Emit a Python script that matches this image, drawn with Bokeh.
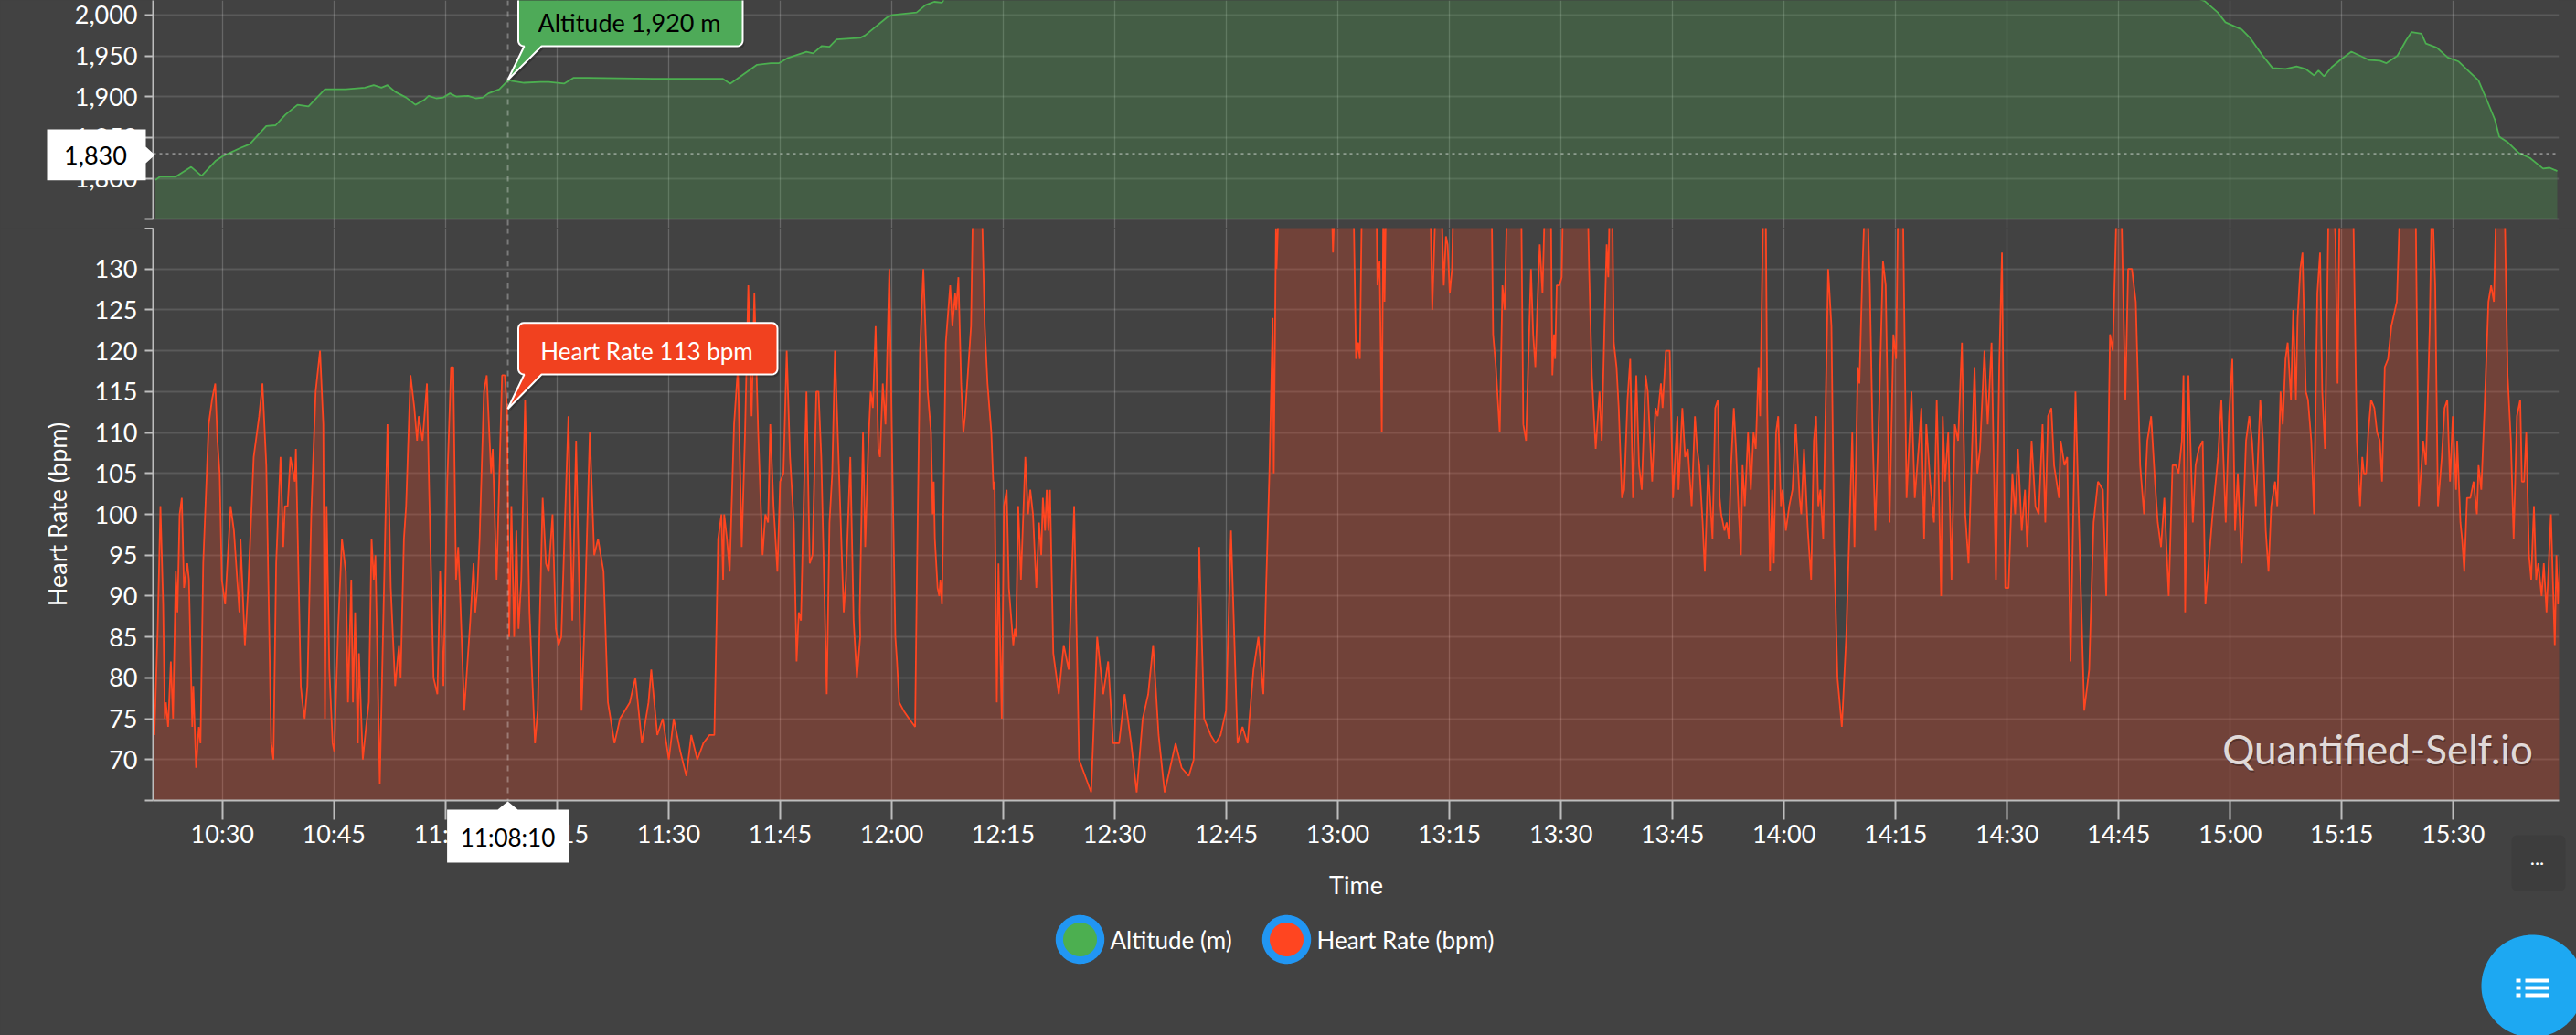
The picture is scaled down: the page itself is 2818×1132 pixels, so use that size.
import numpy as np
from bokeh.core.properties import value
from bokeh.embed import file_html
from bokeh.resources import INLINE
from bokeh.layouts import column
from bokeh.plotting import figure
from bokeh.models import (Range1d, LinearAxis, Grid, FixedTicker, NumeralTickFormatter,
                          Span, ColumnDataSource)

# ---- data: (time reading, value). Time readings are in 1/13.56 minute steps from each base time;
# the last altitude part is in 1/6.79 minute steps.
tick_labels = ["10:30","10:45","11:00","11:15","11:30","11:45","12:00","12:15","12:30","12:45","13:00",
               "13:15","13:30","13:45","14:00","14:15","14:30","14:45","15:00","15:15","15:30"]
alt_ticks = [1750,1800,1850,1900,1950,2000]
hr_ticks = [65,70,75,80,85,90,95,100,105,110,115,120,125,130,135]
cursor_minute = 668.38

alt_a = [(283,1798),(291,1802),(320,1802),(348,1814),(367,1803),(392,1821),(405,1827),(437,1837),(455,1842),
 (485,1864),(502,1865),(520,1878),(542,1890),(562,1888),(592,1909),(630,1909),(665,1911),(681,1914),(695,1911),
 (706,1914),(720,1906),(740,1899),(757,1890),(773,1896),(781,1901),(795,1898),(808,1899),(820,1904),(832,1900),
 (853,1901),(867,1898),(880,1899),(890,1904),(910,1909),(926,1920),(955,1917),(985,1918),(1000,1918),(1028,1916),
 (1045,1923),(1070,1923),(1190,1922),(1317,1922),(1331,1916),(1340,1920),(1380,1939),(1405,1941),(1420,1941),
 (1435,1947),(1470,1955),(1482,1953),(1498,1962),(1512,1961),(1525,1970),(1568,1972)]
alt_b = [(5,1975),(25,1997),(30,2000),(52,2003),(60,2012),(68,2016),(75,2015),(78,2021),(100,2050),(300,2150),
 (600,2230),(900,2180),(1100,2080),(1228,2017),(1240,2003),(1247,1991),(1262,1982),(1270,1971),(1280,1952),(1290,1935),
 (1302,1934),(1312,1937),(1320,1934),(1328,1926),(1332,1932),(1337,1925),(1344,1936),(1352,1945),(1362,1955),
 (1378,1945),(1388,1944),(1394,1941),(1404,1950),(1412,1969),(1417,1979),(1426,1977),(1430,1965),(1440,1960),
 (1450,1948),(1460,1943),(1470,1930),(1478,1920),(1485,1898),(1493,1872),(1497,1851),(1505,1844),(1515,1831),
 (1525,1825),(1537,1812),(1543,1813),(1550,1809)]

hr_a = [(281,73),(287,86),(292,101),(297,89),(300,75),(302,77),(306,74),(311,82),(315,75),(320,93),(323,88),(327,100),
 (331,102),(335,91),(341,94),(344,92),(350,74),(352,79),(357,69),(362,74),(365,72),(370,94),(380,111),(386,114),
 (392,116),(396,109),(400,105),(404,92),(410,89),(420,101),(426,98),(433,91),(436,88),(438,97),(446,84),(452,91),
 (462,107),(472,112),(478,116),(485,106),(494,72),(498,70),(503,94),(511,107),(516,96),(519,101),(524,101),(529,107),
 (537,104),(539,108),(548,79),(551,77),(555,75),(560,79),(567,100),(575,115),(583,120),(589,111),(592,75),(595,101),
 (600,81),(606,72),(609,71),(616,86),(623,97),(630,93),(634,77),(640,92),(643,77),(647,88),(652,72),(654,83),(661,70),
 (667,74),(672,77),(677,97),(681,92),(684,95),(692,67),(700,92),(706,111),(712,91),(720,79),(727,84),(730,80),(736,97),
 (740,101),(748,117),(755,113),(760,109),(763,112),(770,109),(778,116),(782,103),(790,80),(797,78),(802,93),(808,79),
 (815,104),(822,118),(826,118),(831,92),(835,96),(838,91),(846,76),(857,87),(863,94),(866,88),(870,91),(874,97),
 (882,115),(887,117),(895,105),(898,108),(905,92),(915,117),(920,117),(924,113),(928,85),(932,101),(937,85),(941,98),
 (945,86),(950,92),(957,114),(965,88),(975,72),(980,76),(984,88),(989,102),(995,94),(1000,93),(1007,100),(1013,86),
 (1018,84),(1023,85),(1030,100),(1036,112),(1043,87),(1050,109),(1056,90),(1060,76),(1065,86),(1075,110),(1083,95),
 (1090,97),(1100,93),(1108,77),(1120,72),(1130,75),(1148,77),(1158,80),(1170,72),(1182,77),(1187,81),(1198,73),
 (1208,75),(1219,70),(1228,75),(1240,71),(1251,68),(1260,73),(1271,70),(1282,72),(1293,73),(1302,73),(1309,97),
 (1315,100),(1318,92),(1320,100),(1325,97),(1330,93),(1338,111),(1345,118),(1352,96),(1358,110),(1364,128),(1370,112),
 (1375,127),(1382,110),(1390,95),(1395,100),(1400,99),(1404,111),(1410,101),(1417,93),(1422,104),(1428,105),(1434,120),
 (1440,107),(1447,99),(1452,82),(1456,88),(1460,87),(1463,96),(1470,115),(1476,94),(1481,95),(1488,115),(1492,115),
 (1497,107),(1507,78),(1512,99),(1517,105),(1522,120),(1530,104),(1538,88),(1542,92),(1550,107),(1556,87),(1562,80),(1568,85)]
hr_b = [(0,88),(6,110),(10,96),(16,109),(20,115),(24,113),(29,123),(34,108),(37,107),(42,116),(47,111),(54,130),(60,104),
 (65,85),(68,82),(72,77),(80,76),(90,75),(101,74),(104,91),(110,120),(116,130),(124,115),(130,110),(133,100),(135,104),
 (137,97),(142,91),(145,90),(147,92),(150,89),(157,121),(165,128),(169,123),(174,127),(176,125),(180,129),(185,116),
 (189,110),(192,112),(198,118),(203,123),(207,140),(222,140),(228,123),(233,116),(240,110),(244,103),(246,104),(250,77),
 (253,94),(259,75),(263,101),(268,103),(272,91),(280,84),(283,86),(285,85),(289,101),(294,92),(302,107),(307,100),
 (311,103),(316,100),(322,91),(327,99),(331,95),(334,102),(338,98),(341,103),(344,98),(347,103),(353,83),(363,78),
 (372,84),(381,81),(391,101),(400,70),(422,66),(433,85),(444,78),(453,82),(462,72),(473,72),(483,78),(495,72),(505,66),
 (516,75),(526,78),(535,84),(545,73),(556,66),(566,69),(576,72),(587,69),(600,68),(609,70),(619,96),(628,75),(640,73),
 (649,72),(658,73),(668,76),(677,98),(689,72),(698,74),(707,72),(718,81),(727,85),(736,78),(741,91),(747,105),(753,124),
 (755,105),(759,135),(760,130),(765,140),(860,140),(863,132),(867,140),(900,140),(905,119),(909,121),(912,119),(916,140),
 (942,140),(944,128),(948,131),(952,110),(955,140),(957,126),(960,140),(1040,140),(1044,125),(1051,140),(1060,140),
 (1065,128),(1069,134),(1072,133),(1076,127),(1080,130),(1083,140),(1152,140),(1155,122),(1160,118),(1167,110),(1172,128),
 (1176,125),(1181,140),(1206,140),(1210,111),(1215,109),(1224,130),(1228,122),(1232,118),(1236,126),(1240,133),(1245,127),
 (1250,140),(1260,140),(1263,117),(1266,122),(1268,119),(1271,128),(1276,128),(1280,129),(1283,140),(1327,140),(1330,130),
 (1335,117),(1342,108),(1349,115),(1353,109),(1358,123),(1362,133),(1365,129),(1368,140),(1372,140),(1375,121),(1380,118),
 (1384,113),(1390,102),(1394,103),(1400,114),(1405,119),(1410,102),(1416,117),(1421,106),(1426,103),(1433,117),(1437,115),
 (1445,104),(1451,113),(1455,112),(1461,116),(1464,113),(1470,120),(1477,120),(1483,102),(1491,112),(1493,103),(1500,113),
 (1505,107),(1510,108),(1517,101),(1523,112),(1527,108),(1531,106),(1537,99),(1541,93),(1547,106),(1555,97),(1560,113),(1565,114),(1568,102)]
hr_c = [(4,100),(10,98),(14,99),(18,97),(22,106),(27,113),(31,108),(36,100),(40,95),(43,106),(47,101),(53,110),(58,103),
 (63,110),(67,108),(72,118),(75,112),(81,140),(85,140),(88,113),(93,93),(97,103),(100,94),(104,110),(108,112),(113,101),
 (116,103),(122,98),(128,101),(134,103),(140,111),(147,102),(150,100),(155,108),(162,98),(168,92),(173,109),(177,112),
 (181,101),(185,103),(190,97),(199,130),(205,123),(210,96),(216,80),(224,74),(232,85),(243,110),(247,96),(253,118),(256,116),
 (262,131),(267,140),(270,140),(275,128),(280,110),(285,98),(292,113),(299,131),(304,128),(311,99),(318,122),(323,119),
 (327,140),(335,140),(342,102),(347,109),(351,115),(357,102),(365,109),(369,113),(374,97),(378,111),(385,104),(392,99),
 (397,114),(400,106),(405,90),(408,112),(412,104),(418,110),(424,92),(430,111),(436,109),(443,121),(449,100),(455,94),
 (460,105),(466,118),(471,105),(476,108),(484,120),(490,111),(497,121),(505,92),(511,118),(516,132),(522,91),(528,91),
 (535,105),(540,100),(545,108),(552,98),(558,103),(562,96),(570,109),(577,101),(583,100),(590,111),(595,99),(600,112),
 (606,113),(611,106),(620,102),(623,109),(630,106),(635,107),(641,82),(650,115),(658,95),(666,76),(675,81),(683,99),
 (691,104),(700,103),(706,90),(713,122),(718,120),(722,130),(726,140),(733,140),(741,114),(746,130),(753,130),(760,126),
 (768,106),(775,100),(781,109),(788,112),(795,104),(800,99),(806,96),(812,102),(820,90),(827,106),(833,106),(838,105),
 (844,109),(847,117),(850,88),(856,117),(864,99),(869,106),(875,108),(882,109),(887,89),(894,95),(900,100),(910,107),
 (916,114),(924,99),(930,112),(936,119),(941,98),(946,105),(953,94),(961,109),(967,112),(972,109),(979,101),(987,114),
 (992,109),(997,98),(1002,93),(1007,101),(1014,104),(1018,101),(1024,115),(1028,111),(1033,119),(1037,121),(1043,114),
 (1047,125),(1052,114),(1055,124),(1060,130),(1064,132),(1070,115),(1074,114),(1080,109),(1085,100),(1091,127),(1096,132),
 (1100,115),(1105,108),(1112,140),(1120,140),(1124,134),(1128,116),(1132,140),(1156,140),(1163,109),(1169,101),(1173,107),
 (1176,105),(1180,105),(1184,110),(1189,114),(1195,113),(1200,110),(1205,109),(1209,104),(1214,118),(1220,119),(1226,123),
 (1236,126),(1243,140),(1270,140),(1276,101),(1284,109),(1289,106),(1296,123),(1300,140),(1306,128),(1311,101),(1318,107),
 (1323,113),(1328,114),(1333,104),(1338,112),(1344,103),(1346,109),(1352,99),(1355,97),(1359,93),(1364,102),(1370,102),
 (1376,104),(1382,100),(1385,106),(1390,103),(1396,113),(1403,126),(1408,128),(1413,126),(1418,140),(1432,140),(1438,117),
 (1444,109),(1449,97),(1455,112),(1461,114),(1464,104),(1468,104),(1472,110),(1477,95),(1481,92),(1486,101),(1490,92),
 (1494,94),(1500,90),(1504,94),(1509,88),(1517,100),(1524,84),(1527,95),(1530,89),(1534,95)]

BASE_A, BASE_B, BASE_C = 600.13, 715.7, 831.25

def minutes(pairs, base, rate):
    return [base + t / rate for t, _ in pairs]

alt_t = minutes(alt_a, BASE_A, 13.56) + minutes(alt_b, BASE_B, 6.79)
alt_v = [v for _, v in alt_a] + [v for _, v in alt_b]
hr_t = minutes(hr_a, BASE_A, 13.56) + minutes(hr_b, BASE_B, 13.56) + minutes(hr_c, BASE_C, 13.56)
hr_v = [v for _, v in hr_a] + [v for _, v in hr_b] + [v for _, v in hr_c]

tick_minutes = [int(s[:2]) * 60 + int(s[3:]) for s in tick_labels]

# ---- styling
BG = "#424242"
FONT = "Lato"
GREEN = "#4caf50"
RED = "#ff4520"
AX = "#bdbdbd"
X_RANGE = (620.68, 944.22)
L, R = 167, 19
P2_TOP = 249

def base_fig(height, y_range, bottom):
    p = figure(width=2818, height=height, x_range=Range1d(*X_RANGE), y_range=y_range, x_axis_type=None, y_axis_type=None,
               output_backend="svg", toolbar_location=None, min_border_left=L, min_border_right=R,
               min_border_top=0, min_border_bottom=bottom, background_fill_color=BG, border_fill_color=BG,
               outline_line_color=None)
    p.add_layout(Grid(dimension=0, ticker=FixedTicker(ticks=tick_minutes), grid_line_color="#ffffff",
                      grid_line_alpha=0.2, grid_line_width=1.3))
    return p

def style_y(ax):
    ax.axis_line_color = AX
    ax.axis_line_width = 2
    ax.major_tick_line_color = AX
    ax.major_tick_line_width = 2
    ax.major_tick_in = 0
    ax.major_tick_out = 9
    ax.minor_tick_line_color = None
    ax.major_label_text_color = "white"
    ax.major_label_text_font = FONT
    ax.major_label_text_font_size = "27px"
    ax.major_label_standoff = 8

# ---- altitude panel
p1 = base_fig(P2_TOP, Range1d(1739.15, 2017.7), 0)
a_ticker = FixedTicker(ticks=alt_ticks)
a_axis = LinearAxis(ticker=a_ticker, formatter=NumeralTickFormatter(format="0,0"), bounds=(1750, 2017.7),
                    major_label_overrides={1750: ""})
style_y(a_axis)
p1.add_layout(a_axis, "left")
p1.add_layout(Grid(dimension=1, ticker=a_ticker, grid_line_color="#ffffff", grid_line_alpha=0.13, grid_line_width=2.2))
a_src = ColumnDataSource(dict(t=alt_t, v=alt_v, b=[1750] * len(alt_v)))
p1.varea(x="t", y1="b", y2="v", source=a_src, fill_color=GREEN, fill_alpha=0.25)
p1.line(x="t", y="v", source=a_src, line_color=GREEN, line_width=1.8)
p1.add_layout(Span(location=1830, dimension="width", line_color="#ffffff", line_alpha=0.4, line_width=2, line_dash="3 4"))
p1.add_layout(Span(location=cursor_minute, dimension="height", line_color="#ffffff", line_alpha=0.3, line_width=2, line_dash="6 6"))

# ---- heart-rate panel
p2 = base_fig(1132 - P2_TOP, Range1d(65, 135), 257)
h_ticker = FixedTicker(ticks=hr_ticks)
h_axis = LinearAxis(ticker=h_ticker, bounds=(65, 135), major_label_overrides={65: "", 135: ""},
                    axis_label="Heart Rate (bpm)", axis_label_text_color="white", axis_label_text_font=FONT,
                    axis_label_text_font_size="27px", axis_label_text_font_style="normal", axis_label_standoff=22)
style_y(h_axis)
p2.add_layout(h_axis, "left")
p2.add_layout(Grid(dimension=1, ticker=h_ticker, grid_line_color="#ffffff", grid_line_alpha=0.13, grid_line_width=2.2))
h_src = ColumnDataSource(dict(t=hr_t, v=hr_v, b=[65] * len(hr_v)))
p2.varea(x="t", y1="b", y2="v", source=h_src, fill_color=RED, fill_alpha=0.25)
p2.line(x="t", y="v", source=h_src, line_color=RED, line_width=1.8)

x_axis = LinearAxis(ticker=FixedTicker(ticks=tick_minutes), major_label_overrides=dict(zip(tick_minutes, tick_labels)),
                    axis_label="Time", axis_label_text_color="white", axis_label_text_font=FONT,
                    axis_label_text_font_size="27px", axis_label_text_font_style="normal", axis_label_standoff=20)
x_axis.axis_line_color = AX
x_axis.axis_line_width = 2
x_axis.major_tick_line_color = AX
x_axis.major_tick_line_width = 2
x_axis.major_tick_in = 0
x_axis.major_tick_out = 21
x_axis.minor_tick_line_color = None
x_axis.major_label_text_color = "white"
x_axis.major_label_text_font = FONT
x_axis.major_label_text_font_size = "27px"
x_axis.major_label_standoff = -2
p2.add_layout(x_axis, "below")
p2.add_layout(Span(location=cursor_minute, dimension="height", line_color="#ffffff", line_alpha=0.3, line_width=2, line_dash="6 6"))

# ---- transparent overlay over the whole page: tooltips, watermark, legend, page widgets
ov = figure(width=2818, height=1132, x_range=Range1d(0, 2818), y_range=Range1d(1132, 0), x_axis_type=None, y_axis_type=None,
            output_backend="svg", toolbar_location=None, min_border=0, background_fill_alpha=0, border_fill_alpha=0,
            outline_line_color=None, styles={"position": "absolute", "left": "0", "top": "0"})

def rr(x0, y0, x1, y1, r=6):
    pts = []
    for cx, cy, a0 in [(x1 - r, y0 + r, -90), (x1 - r, y1 - r, 0), (x0 + r, y1 - r, 90), (x0 + r, y0 + r, 180)]:
        for a in np.radians(np.linspace(a0, a0 + 90, 6)):
            pts.append((cx + r * np.cos(a), cy + r * np.sin(a)))
    return pts

def callout(x0, y0, x1, y1, tip, base0, base1):
    pts = rr(x0, y0, x1, y1)
    return pts[:12] + [(base1, y1), tip, (base0, y1)] + pts[12:]

def shape(pts, color, alpha=1.0, line=None, width=0):
    ov.patch([float(p[0]) for p in pts], [float(p[1]) for p in pts], fill_color=color, fill_alpha=alpha,
             line_color=line, line_width=width)

def disc(cx, cy, r, color):
    a = np.linspace(0, 2 * np.pi, 120)[:-1]
    shape(list(zip(cx + r * np.cos(a), cy + r * np.sin(a))), color)

def label(x, y, text, color="white", size=25, align="center", alpha=1.0):
    ov.text([x], [y], text=[text], text_color=color, text_font=value(FONT), text_font_size=f"{size}px",
            text_align=align, text_baseline="middle", text_alpha=alpha)

alt_box = callout(566.5, -20, 812, 50, (555, 87), 573, 592)
shape([(x + 2, y + 3) for x, y in alt_box], "#000000", 0.2)
shape(alt_box, "#4eaa58", line="white", width=2)
label(688, 24, "Altitude 1,920 m", color="#000000", size=27)

shape([(51, 141), (159, 141), (159, 160), (169, 169), (159, 178), (159, 196.7), (51, 196.7)], "white")
label(104, 169, "1,830", color="#000000", size=27)

hr_box = callout(566.5, 352.7, 850, 409, (555, 446.7), 573, 592)
shape([(x + 2, y + 3) for x, y in hr_box], "#000000", 0.2)
shape(hr_box, "#f1411f", line="white", width=2)
label(707, 383, "Heart Rate 113 bpm", size=26)

shape([(555, 876), (566, 885), (621.7, 885), (621.7, 943), (488.6, 943), (488.6, 885), (544, 885)], "white")
label(555, 915, "11:08:10", color="#000000", size=26)

label(2601.5, 820, "Quantified-Self.io", color="#000000", size=44, alpha=0.25)
label(2600.5, 818, "Quantified-Self.io", color="#ffffff", size=44, alpha=0.82)

disc(1181, 1027, 26.7, "#2196f3")
disc(1181, 1027, 18.5, GREEN)
label(1214, 1027, "Altitude (m)", align="left", size=26)
disc(1407, 1027, 26.7, "#2196f3")
disc(1407, 1027, 18.5, RED)
label(1440, 1027, "Heart Rate (bpm)", align="left", size=26)

shape(rr(2747, 913, 2806, 974, 6), "#3d3d3d")
label(2775, 938, "...", size=22)
disc(2770, 1078, 56, "#1da8f2")
for yc in (1072, 1080, 1088):
    for xa, xb in ((2752, 2757), (2762, 2788)):
        shape([(xa, yc - 2), (xb, yc - 2), (xb, yc + 2), (xa, yc + 2)], "white")

page = column(p1, p2, spacing=0, styles={"position": "absolute", "left": "0", "top": "0", "background-color": BG})
open("out.html", "w").write(file_html([page, ov], INLINE))
